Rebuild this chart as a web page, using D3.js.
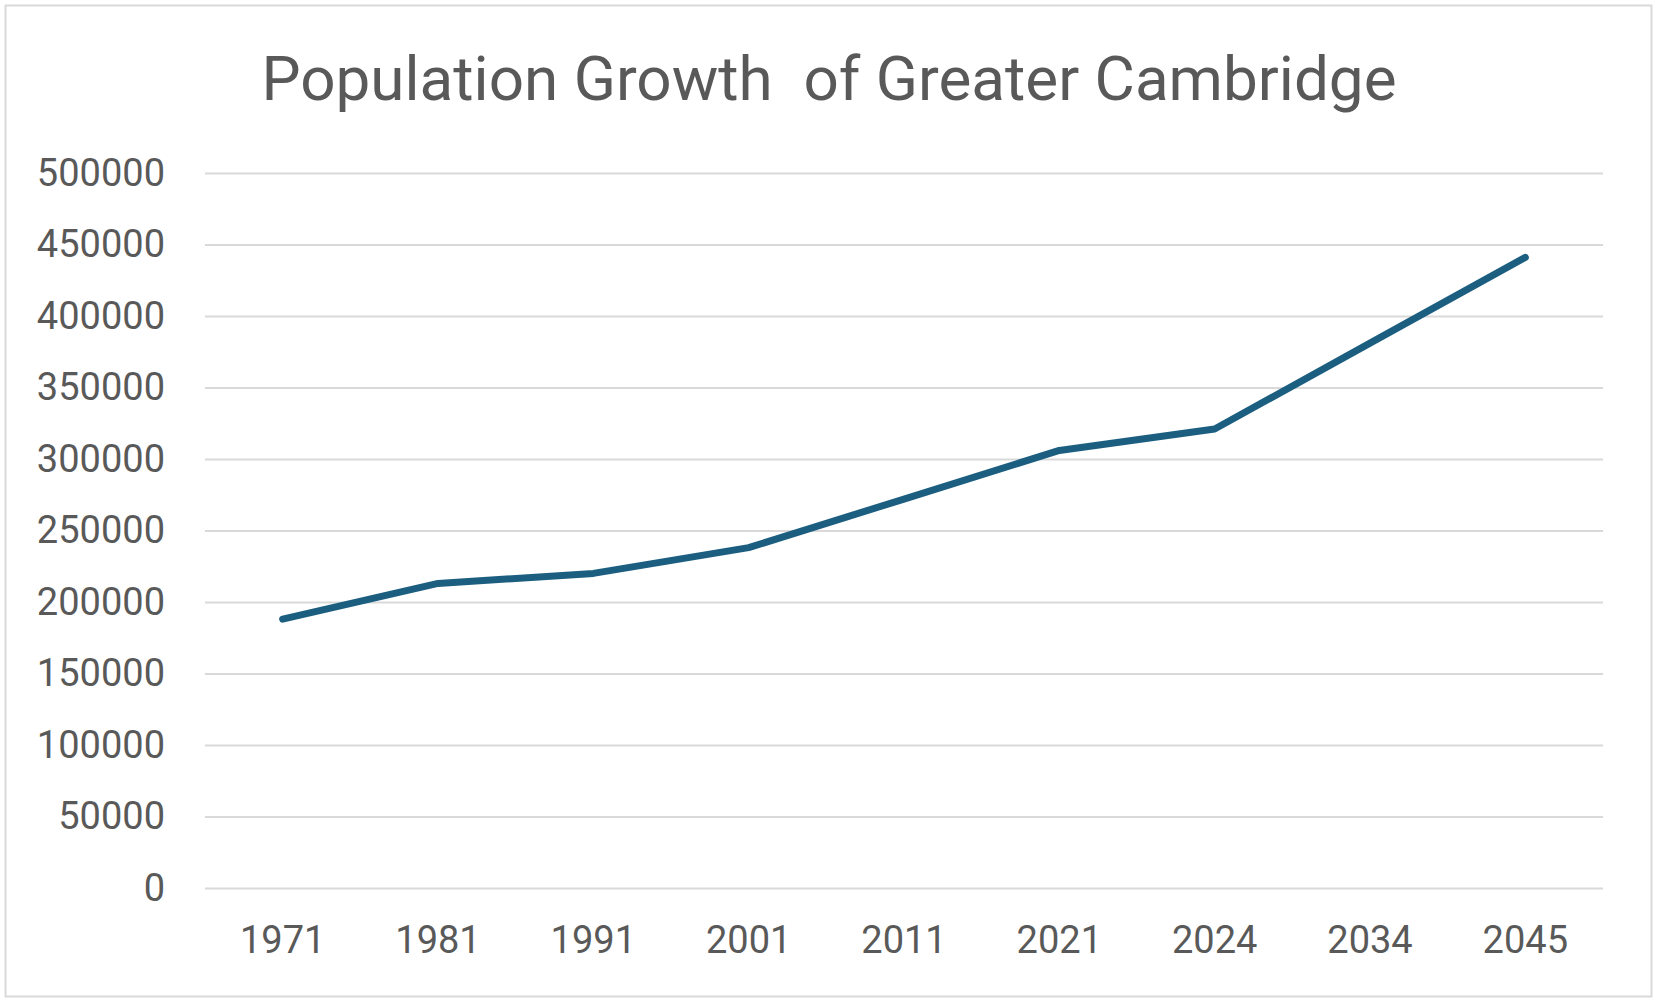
<!DOCTYPE html>
<html>
<head>
<meta charset="utf-8">
<script src="https://cdn.jsdelivr.net/npm/d3@7"></script>
<style>
  body { margin: 0; background: #fff; }
  svg text { font-family: Roboto, "Noto Sans", sans-serif; fill: #595959; }
</style>
</head>
<body>
<script>
// data
var years = ["1971", "1981", "1991", "2001", "2011", "2021", "2024", "2034", "2045"];
var population = [188000, 213000, 220000, 238000, 272000, 306000, 321000, 381000, 441000];
var yTicks = [0, 50000, 100000, 150000, 200000, 250000, 300000, 350000, 400000, 450000, 500000];

var width = 1663,
    height = 1003,
    plotLeft = 205,
    plotRight = 1603,
    plotTop = 173,
    plotBottom = 888;

var svg = d3.select("body").append("svg")
    .attr("width", width)
    .attr("height", height);

// outer frame
svg.append("rect")
    .attr("x", 5.5).attr("y", 5.5)
    .attr("width", 1646).attr("height", 991)
    .attr("fill", "#fff")
    .attr("stroke", "#d9d9d9")
    .attr("stroke-width", 2);

svg.append("text")
    .attr("x", 829)
    .attr("y", 100)
    .attr("text-anchor", "middle")
    .attr("font-size", 62)
    .attr("xml:space", "preserve")
    .style("white-space", "pre")
    .text("Population Growth  of Greater Cambridge");

var x = d3.scaleBand()
    .domain(years)
    .range([plotLeft, plotRight]);

var y = d3.scaleLinear()
    .domain([0, 500000])
    .range([plotBottom, plotTop]);

// gridlines
var yAxis = svg.append("g")
    .attr("transform", "translate(" + plotLeft + ",0)")
    .call(d3.axisLeft(y)
        .tickValues(yTicks)
        .tickSize(-(plotRight - plotLeft))
        .tickPadding(40)
        .tickFormat(d3.format("d")));
yAxis.select(".domain").remove();
yAxis.selectAll(".tick line")
    .attr("stroke", "#d9d9d9")
    .attr("stroke-width", 2);
yAxis.selectAll(".tick text")
    .attr("font-size", 38)
    .attr("fill", "#595959")
    .attr("font-family", "Roboto, 'Noto Sans', sans-serif");

var xAxis = svg.append("g")
    .attr("transform", "translate(0," + plotBottom + ")")
    .call(d3.axisBottom(x).tickSize(0).tickPadding(38));
xAxis.select(".domain").remove();
xAxis.selectAll(".tick text")
    .attr("font-size", 38)
    .attr("fill", "#595959")
    .attr("font-family", "Roboto, 'Noto Sans', sans-serif");

var line = d3.line()
    .x(function(d, i) { return x(years[i]) + x.bandwidth() / 2; })
    .y(function(d) { return y(d); });

svg.append("path")
    .datum(population)
    .attr("d", line)
    .attr("fill", "none")
    .attr("stroke", "#1b5e80")
    .attr("stroke-width", 7)
    .attr("stroke-linecap", "round")
    .attr("stroke-linejoin", "round");
</script>
</body>
</html>
